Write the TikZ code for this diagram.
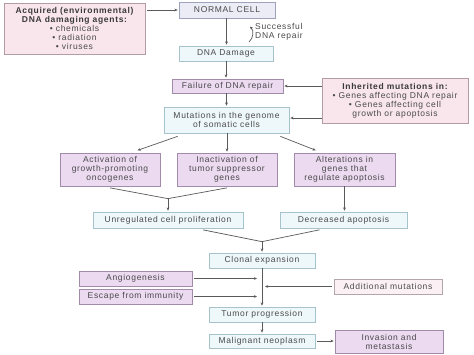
\documentclass[tikz,border=0pt]{standalone}
\usepackage{fontspec}
\setmainfont[LetterSpace=8]{Liberation Sans}
\usetikzlibrary{arrows.meta,calc}
\definecolor{txt}{HTML}{4A4A4A}
\definecolor{btxt}{HTML}{3A3A3A}
\definecolor{ln}{HTML}{5A5A5A}
\definecolor{pinkf}{HTML}{F8E6EC}
\definecolor{pinkd}{HTML}{B49CA6}
\definecolor{lavf}{HTML}{EBDAF0}
\definecolor{lavd}{HTML}{A08CAA}
\definecolor{cyanf}{HTML}{EEF8FA}
\definecolor{cyand}{HTML}{A6C2CA}
\definecolor{bluef}{HTML}{ECECF6}
\definecolor{blued}{HTML}{9EA2BA}
\definecolor{lpinkf}{HTML}{FBF1F4}
\definecolor{lpinkd}{HTML}{B4A4AC}
\begin{document}
\begin{tikzpicture}[x=1pt,y=-1pt,
  base/.style={inner sep=0pt, align=center, font=\fontsize{8.5}{9}\selectfont, text=txt, line width=0.7pt},
  pinkbox/.style={base, draw=pinkd, fill=pinkf},
  lavbox/.style={base, draw=lavd, fill=lavf},
  cyanbox/.style={base, draw=cyand, fill=cyanf},
  bluebox/.style={base, draw=blued, fill=bluef},
  lpinkbox/.style={base, draw=lpinkd, fill=lpinkf},
  conn/.style={draw=ln, line width=0.7pt},
  arr/.style={conn, -{Stealth[length=3.2pt,width=2.8pt]}, shorten >=1pt},
  lbl/.style={inner sep=0pt, align=left, font=\fontsize{8.5}{9}\selectfont, text=txt}
]
\fill[white] (0,0) rectangle (474,355);
\useasboundingbox (0,0) rectangle (474,355);

% nodes
\node[pinkbox, minimum width=141pt, minimum height=51pt] (acq) at (74.5,28.5)
  {\textbf{\color{btxt}Acquired (environmental)}\\\textbf{\color{btxt}DNA damaging agents:}\\• chemicals\\• radiation\\• viruses};
\node[bluebox, minimum width=96pt, minimum height=16pt] (normal) at (227,10) {NORMAL CELL};
\node[cyanbox, minimum width=94pt, minimum height=15pt] (damage) at (226,53.5) {DNA Damage};
\node[lbl, anchor=west] (succ) at (255,31.5) {Successful\\DNA repair};
\node[lavbox, minimum width=111pt, minimum height=14pt] (failure) at (227.5,86) {Failure of DNA repair};
\node[pinkbox, minimum width=146pt, minimum height=45pt] (inher) at (395,100.5)
  {\textbf{\color{btxt}Inherited mutations in:}\\• Genes affecting DNA repair\\• Genes affecting cell\\growth or apoptosis};
\node[cyanbox, minimum width=125pt, minimum height=26pt] (mut) at (226.5,120) {Mutations in the genome\\of somatic cells};
\node[lavbox, minimum width=100pt, minimum height=33pt] (act) at (110,169.5) {Activation of\\growth-promoting\\oncogenes};
\node[lavbox, minimum width=100pt, minimum height=33pt] (inact) at (227,169.5) {Inactivation of\\tumor suppressor\\genes};
\node[lavbox, minimum width=101pt, minimum height=33pt] (alt) at (344.5,169.5) {Alterations in\\genes that\\regulate apoptosis};
\node[cyanbox, minimum width=150pt, minimum height=16pt] (unreg) at (168,220) {Unregulated cell proliferation};
\node[cyanbox, minimum width=127pt, minimum height=16pt] (decr) at (343.5,220) {Decreased apoptosis};
\node[cyanbox, minimum width=106pt, minimum height=15pt] (clonal) at (262,260.5) {Clonal expansion};
\node[lavbox, minimum width=113pt, minimum height=15pt] (angio) at (135.5,278.5) {Angiogenesis};
\node[lavbox, minimum width=113pt, minimum height=15pt] (escape) at (135.5,296.5) {Escape from immunity};
\node[lpinkbox, minimum width=108pt, minimum height=15pt] (addm) at (388,286.5) {Additional mutations};
\node[cyanbox, minimum width=106pt, minimum height=15pt] (tumor) at (262,314.5) {Tumor progression};
\node[cyanbox, minimum width=106pt, minimum height=14pt] (malig) at (262,341) {Malignant neoplasm};
\node[lavbox, minimum width=108pt, minimum height=23pt] (inv) at (389,341.5) {Invasion and\\metastasis};

% helper coordinates
\coordinate (r1) at (249,42);
\coordinate (r2) at (249,26);
\coordinate (m1) at ([yshift=13pt]unreg.north);
\coordinate (m2) at ([yshift=11pt]clonal.north);
\coordinate (mutin) at ([yshift=2pt]mut.east);

% connectors
\draw[arr] ([xshift=2pt]acq.east |- normal.west) -- (normal.west);
\draw[arr] ([xshift=-0.5pt]normal.south) -- ([xshift=-0.5pt]normal.south |- damage.north);
\draw[arr] (r1) to[bend right=50] (r2);
\draw[arr] (damage.south) -- (damage.south |- failure.north);
\draw[arr] (inher.west |- failure.east) -- (failure.east);
\draw[arr] (inher.west |- mutin) -- (mutin);
\draw[arr] (failure.south -| mut.north) -- (mut.north);
\draw[arr] ([xshift=14pt,yshift=-3pt]mut.south west) -- ([xshift=77pt,yshift=2pt]act.north west);
\draw[arr] (mut.south -| inact.north) -- (inact.north);
\draw[arr] ([xshift=-9pt,yshift=-3pt]mut.south east) -- ([xshift=23pt,yshift=2pt]alt.north west);
\draw[conn] ([yshift=-1.5pt]act.south) -- (m1) -- ([yshift=-1.5pt]inact.south);
\draw[arr] (m1) -- (unreg.north);
\draw[arr] (alt.south) -- (alt.south |- decr.north);
\draw[conn] ([xshift=35pt,yshift=-1.5pt]unreg.south) -- (m2) -- ([xshift=-24pt,yshift=-1.5pt]decr.south);
\draw[arr] (m2) -- (clonal.north);
\draw[arr] (clonal.south) -- (tumor.north);
\draw[arr, shorten >=5pt] ([xshift=1.5pt]angio.east) -- (angio.east -| clonal.south);
\draw[arr, shorten >=5pt] ([xshift=1.5pt]escape.east) -- (escape.east -| clonal.south);
\draw[arr, shorten >=3pt] ([xshift=-1.5pt]addm.west) -- (addm.west -| clonal.south);
\draw[arr] (tumor.south) -- (malig.north);
\draw[arr, shorten <=2pt] (malig.east) -- (malig.east -| inv.west);
\end{tikzpicture}
\end{document}
